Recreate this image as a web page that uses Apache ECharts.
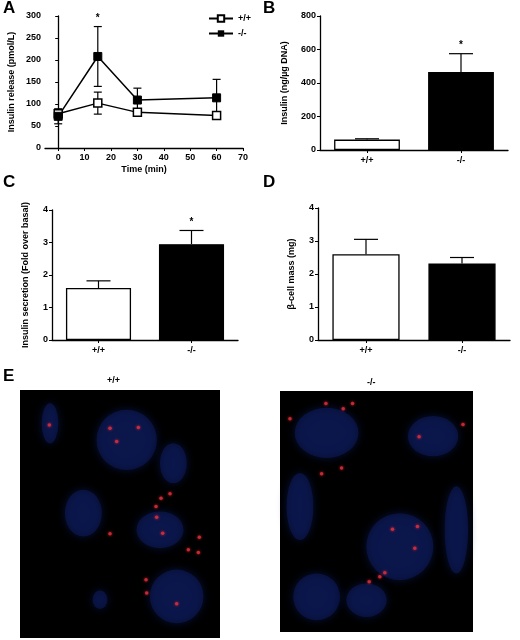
<!DOCTYPE html>
<html><head><meta charset="utf-8">
<script src="https://cdn.jsdelivr.net/npm/echarts@6/dist/echarts.min.js"></script>
<style>html,body{margin:0;padding:0;background:#fff}#c{width:520px;height:640px}</style>
</head><body><div id="c"></div>
<script>
// Panel A
var timePoints = [0, 15, 30, 60];
var wtRelease = [78, 102, 81, 74];
var wtReleaseErr = [10, 25, 5, 5];
var koRelease = [72, 208, 109, 114];
var koReleaseErr = [17, 68, 27, 42];
var timeTicks = [0, 10, 20, 30, 40, 50, 60, 70];
// Panels B-D
var genotypes = ['+/+', '-/-'];
var insulinContent = [62, 465];
var insulinContentErr = [5, 110];
var foldSecretion = [1.6, 2.95];
var foldSecretionErr = [0.22, 0.42];
var betaMass = [2.6, 2.32];
var betaMassErr = [0.45, 0.18];
var starsB = [false, true], starsC = [false, true], starsD = [false, false];
// Panel E (image features, in picture units)
var wtDots = [[148,135],[330,145],[415,143],[350,185],[510,342],[483,355],[468,380],[470,412],[488,460],[598,472],[565,510],[595,518],[330,462],[530,672],[438,600],[440,640]];
var koDots = [[978,72],[1030,88],[1058,72],[870,118],[1258,172],[965,282],[1025,265],[1178,448],[1253,440],[1140,590],[1155,578],[1108,605],[1390,135],[1245,505]];
var wtBlobs = [[150,130,25,60],[380,180,90,90],[250,400,55,70],[480,450,70,55],[530,650,80,80],[300,660,22,28],[520,250,40,60]];
var koBlobs = [[980,160,95,75],[1300,170,75,60],[900,380,40,100],[1200,500,100,100],[950,650,70,70],[1370,450,35,130],[1100,660,60,50]];

var bold = {fontFamily:'Liberation Sans, Arial', fontWeight:'bold', color:'#000'};
var chart = echarts.init(document.getElementById('c'));

function vAxis(idx, max, interval, name, gap){
  return {type:'value', gridIndex:idx, min:0, max:max, interval:interval, name:name, nameLocation:'middle', nameGap:gap, nameRotate:90,
    nameTextStyle:Object.assign({fontSize:9}, bold),
    axisLine:{show:true, lineStyle:{color:'#000', width:1.3}}, axisTick:{show:true, length:3, lineStyle:{color:'#000'}},
    axisLabel:Object.assign({fontSize:9, margin:4}, bold), splitLine:{show:false}};
}
function cAxis(idx){
  return {type:'category', gridIndex:idx, data:genotypes, axisLine:{lineStyle:{color:'#000', width:1.3}},
    axisTick:{show:true, alignWithLabel:true, length:3, lineStyle:{color:'#000'}}, axisLabel:Object.assign({fontSize:9, margin:6}, bold)};
}
function barSeries(idx, vals){
  return {type:'bar', xAxisIndex:idx, yAxisIndex:idx, barWidth:'70%', z:2,
    data: vals.map(function(v,i){return {value:v, itemStyle:{color: i===0?'#fff':'#000', borderColor:'#000', borderWidth:1.3}};})};
}
function errSeries(idx, xs, vals, errs, stars, both){
  return {type:'custom', xAxisIndex:idx, yAxisIndex:idx, z:3,
    data: vals.map(function(v,i){return [xs[i], v, errs[i], stars[i]?1:0];}),
    renderItem:function(p, api){
      var x=api.value(0), y=api.value(1), e=api.value(2);
      var c=api.coord([x,y]), hi=api.coord([x,y+e]), lo=api.coord([x,y-e]);
      var w=both?4:12, ch=[];
      ch.push({type:'line', shape:{x1:c[0],y1:both?lo[1]:c[1],x2:c[0],y2:hi[1]}, style:{stroke:'#000',lineWidth:1.2}});
      ch.push({type:'line', shape:{x1:c[0]-w,y1:hi[1],x2:c[0]+w,y2:hi[1]}, style:{stroke:'#000',lineWidth:1.2}});
      if(both) ch.push({type:'line', shape:{x1:c[0]-w,y1:lo[1],x2:c[0]+w,y2:lo[1]}, style:{stroke:'#000',lineWidth:1.2}});
      if(api.value(3)) ch.push({type:'text', style:{text:'*', x:c[0], y:hi[1]-8, align:'center', verticalAlign:'middle', fontSize:10, fill:'#000', fontWeight:'bold'}});
      return {type:'group', children:ch};
    }};
}
function imgAxes(idx, x0, x1, y0, y1){
  return [{type:'value', gridIndex:idx, min:x0, max:x1, show:false},
          {type:'value', gridIndex:idx, min:y0, max:y1, inverse:true, show:false}];
}
var iw = imgAxes(4, 60, 660, 30, 775), ik = imgAxes(5, 840, 1420, 35, 755);
function blobSeries(idx, blobs){
  return {type:'scatter', xAxisIndex:idx, yAxisIndex:idx, silent:true, clip:true,
    data:blobs.map(function(b){return {value:[b[0],b[1]], symbolSize:[b[2]*0.67,b[3]*0.67]};}),
    itemStyle:{color:'#0d1a5a', opacity:0.6, shadowBlur:10, shadowColor:'#0d1a5a'}};
}
function dotSeries(idx, dots){
  return {type:'scatter', xAxisIndex:idx, yAxisIndex:idx, silent:true, clip:true, data:dots, symbolSize:3.5,
    itemStyle:{color:'#e0303a', shadowBlur:3, shadowColor:'#ff3040'}};
}

var option = {
  animation:false,
  grid:[
    {left:45, top:16, width:198, height:132},
    {left:320, top:16, right:12, height:134},
    {left:52, top:210, width:186, height:130},
    {left:318, top:208, right:10, height:132},
    {left:20, top:390, width:200, height:248, backgroundColor:'#000', show:true, borderWidth:0},
    {left:280, top:391, width:193, height:241, backgroundColor:'#000', show:true, borderWidth:0}
  ],
  legend:{left:203, top:9, orient:'vertical', itemGap:6, itemWidth:24, itemHeight:8, textStyle:Object.assign({fontSize:9}, bold),
    data:['+/+','-/-']},
  xAxis:[
    {type:'value', gridIndex:0, min:-5, max:70, name:'Time (min)', nameLocation:'middle', nameGap:17, nameTextStyle:Object.assign({fontSize:9}, bold),
      axisLine:{lineStyle:{color:'#000', width:1.3}}, axisTick:{show:true, length:3, customValues:timeTicks, lineStyle:{color:'#000'}},
      axisLabel:Object.assign({fontSize:9, margin:5, customValues:timeTicks}, bold), splitLine:{show:false}},
    cAxis(1), cAxis(2), cAxis(3), iw[0], ik[0]
  ],
  yAxis:[
    vAxis(0, 300, 50, 'Insulin release (pmol/L)', 29),
    vAxis(1, 800, 200, 'Insulin (ng/µg DNA)', 31),
    vAxis(2, 4, 1, 'Insulin secretion (Fold over basal)', 22),
    vAxis(3, 4, 1, 'β-cell mass (mg)', 22),
    iw[1], ik[1]
  ],
  graphic:[
    {type:'text', left:3, top:0, style:{text:'A', fontSize:17, fontWeight:'bold', fill:'#000', fontFamily:'Liberation Sans'}},
    {type:'text', left:263, top:0, style:{text:'B', fontSize:17, fontWeight:'bold', fill:'#000', fontFamily:'Liberation Sans'}},
    {type:'text', left:3, top:174, style:{text:'C', fontSize:17, fontWeight:'bold', fill:'#000', fontFamily:'Liberation Sans'}},
    {type:'text', left:263, top:174, style:{text:'D', fontSize:17, fontWeight:'bold', fill:'#000', fontFamily:'Liberation Sans'}},
    {type:'text', left:3, top:368, style:{text:'E', fontSize:17, fontWeight:'bold', fill:'#000', fontFamily:'Liberation Sans'}},
    {type:'text', left:107, top:376, style:{text:'+/+', fontSize:9, fontWeight:'bold', fill:'#000', fontFamily:'Liberation Sans'}},
    {type:'text', left:367, top:378, style:{text:'-/-', fontSize:9, fontWeight:'bold', fill:'#000', fontFamily:'Liberation Sans'}}
  ],
  series:[
    {name:'+/+', type:'line', xAxisIndex:0, yAxisIndex:0, data:timePoints.map(function(t,i){return [t, wtRelease[i]];}),
      symbol:'rect', symbolSize:8, lineStyle:{color:'#000', width:1.5}, itemStyle:{color:'#fff', borderColor:'#000', borderWidth:1.5}, z:4},
    {name:'-/-', type:'line', xAxisIndex:0, yAxisIndex:0, data:timePoints.map(function(t,i){return [t, koRelease[i]];}),
      symbol:'rect', symbolSize:8, lineStyle:{color:'#000', width:1.5}, itemStyle:{color:'#000', borderColor:'#000'}, z:4},
    errSeries(0, timePoints, wtRelease, wtReleaseErr, [false,false,false,false], true),
    errSeries(0, timePoints, koRelease, koReleaseErr, [false,true,false,false], true),
    barSeries(1, insulinContent), errSeries(1, [0,1], insulinContent, insulinContentErr, starsB, false),
    barSeries(2, foldSecretion), errSeries(2, [0,1], foldSecretion, foldSecretionErr, starsC, false),
    barSeries(3, betaMass), errSeries(3, [0,1], betaMass, betaMassErr, starsD, false),
    blobSeries(4, wtBlobs), blobSeries(5, koBlobs),
    dotSeries(4, wtDots), dotSeries(5, koDots)
  ]
};
chart.setOption(option);
</script></body></html>
